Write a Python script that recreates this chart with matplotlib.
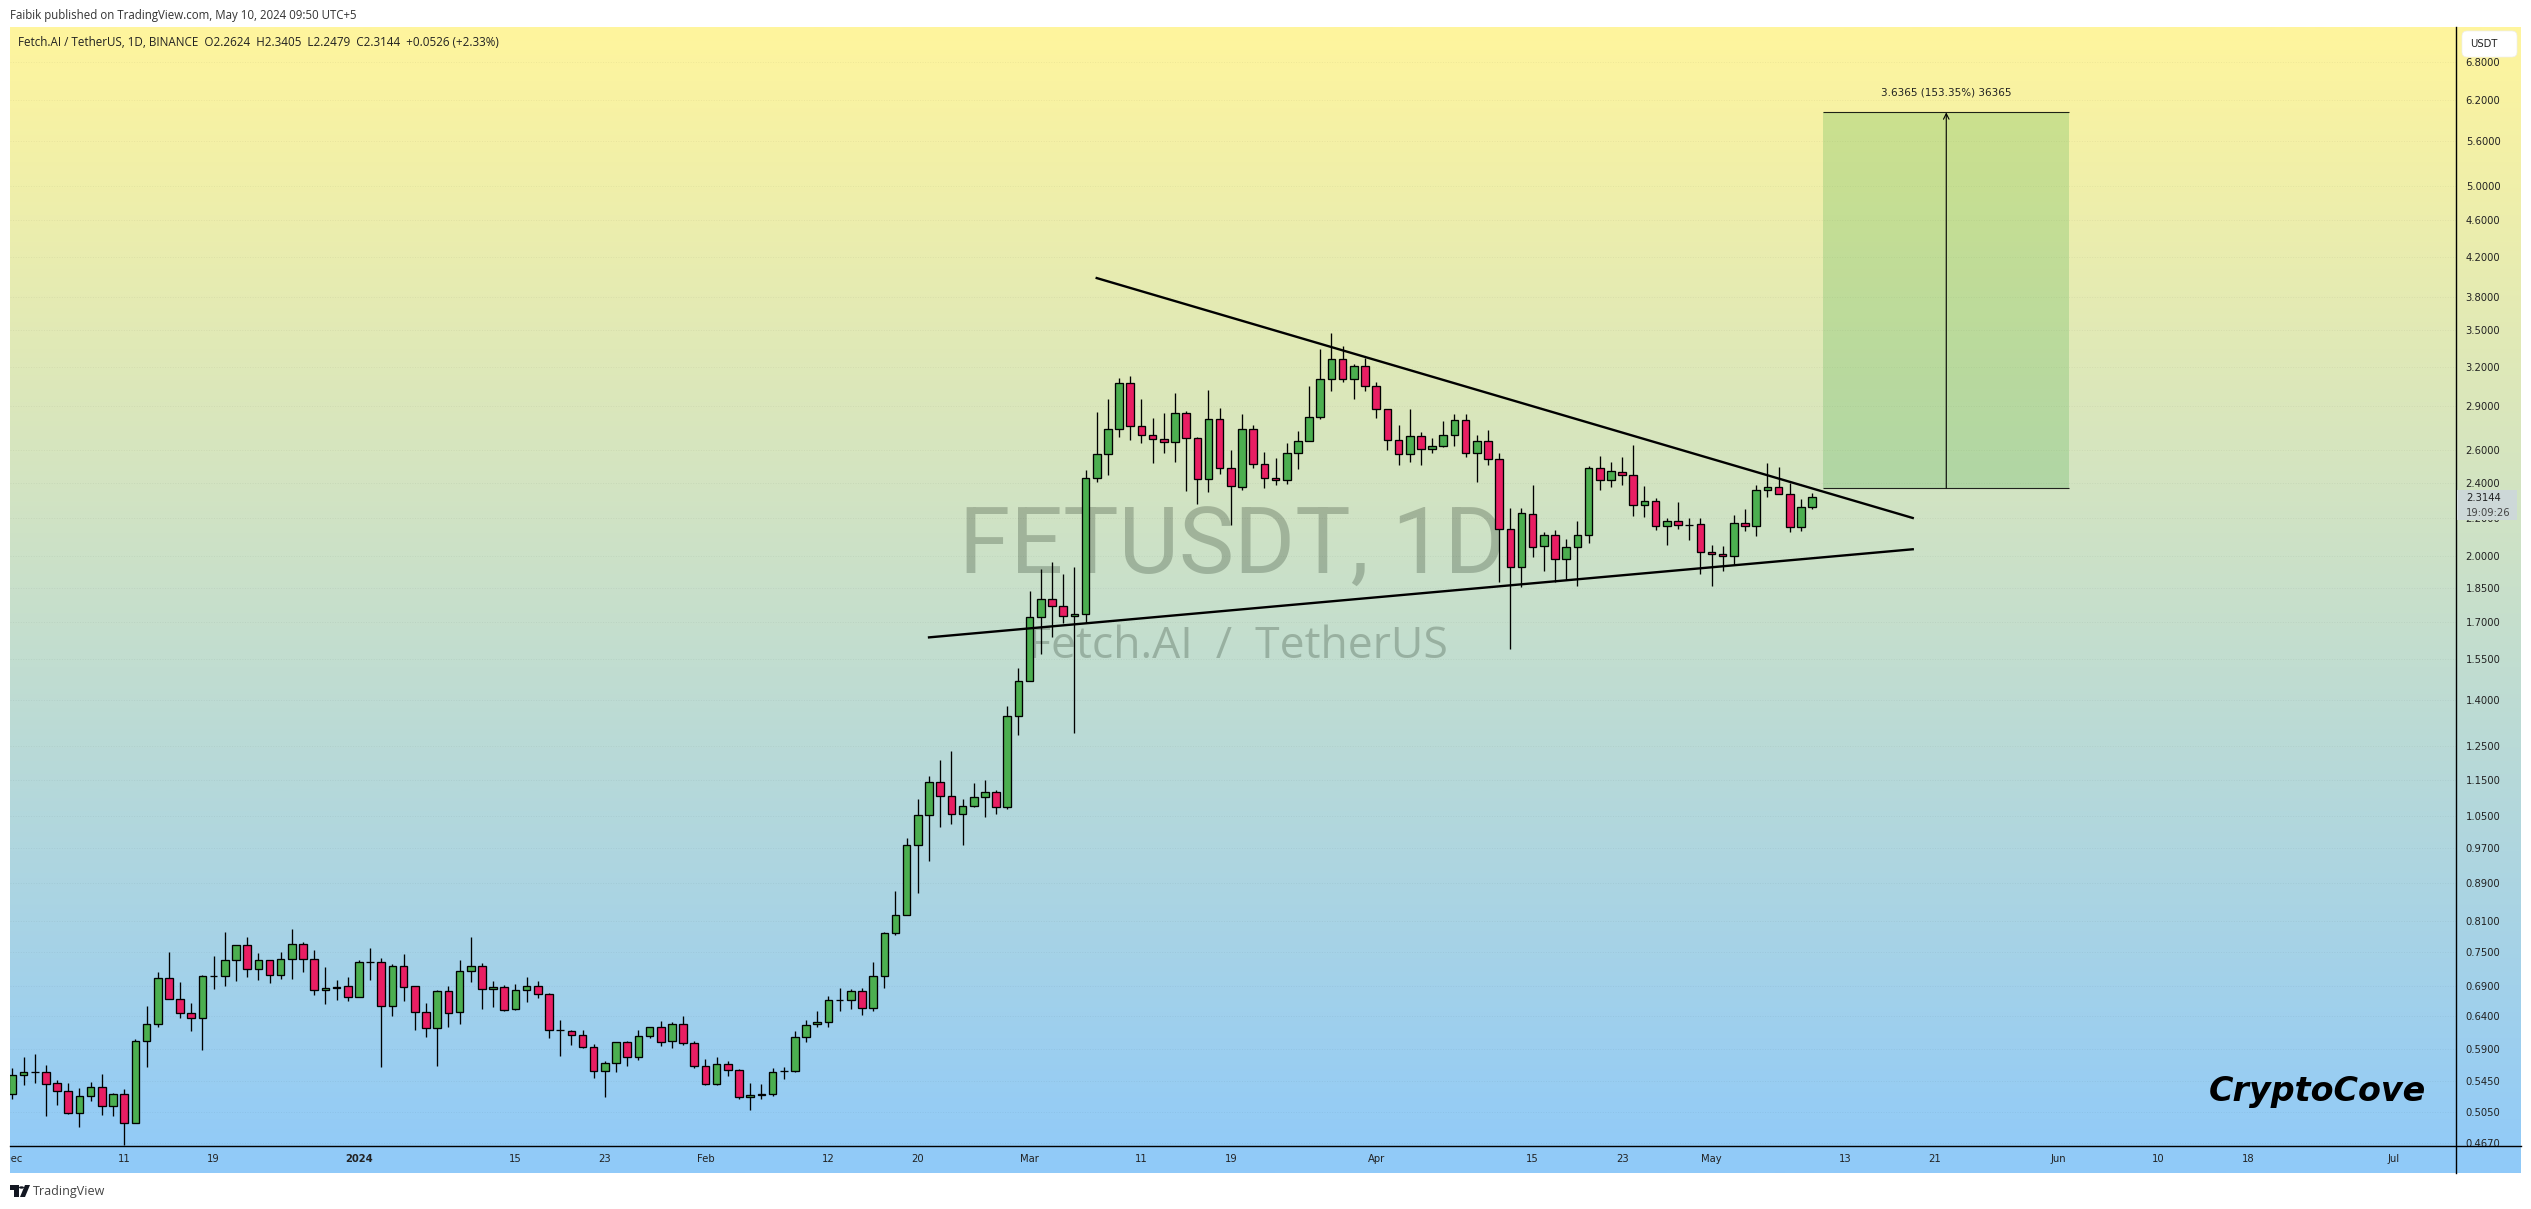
#!/usr/bin/env python3
"""FETUSDT daily candles with a triangle and a projected target, TradingView look."""

import matplotlib

matplotlib.use("Agg")
import matplotlib.dates as mdates
import matplotlib.pyplot as plt
import numpy as np
from matplotlib.colors import LinearSegmentedColormap
from matplotlib.lines import Line2D
from matplotlib.patches import Circle, FancyBboxPatch, Polygon, Rectangle
from matplotlib.transforms import Bbox, TransformedBbox

W, H = 2531, 1209

dates = np.arange(np.datetime64("2023-12-01"), np.datetime64("2024-05-11"))

opens = [
    .5277, .5530, .5572, .5572, .5422, .5316, .5034, .5250, .5369, .5122,
    .5277, .4911, .6017, .6275, .7033, .6676, .6449, .6369, .7068, .7068,
    .7354, .7632, .7192, .7354, .7086, .7372, .7651, .7372, .6827, .6878,
    .6895, .6710, .7317, .7317, .6561, .7245, .6895, .6465, .6214, .6810,
    .6465, .7156, .7245, .6844, .6878, .6513, .6827, .6895, .6760, .6183,
    .6168, .6107, .5928, .5585, .5698, .6002, .5783, .6092, .6229, .6017,
    .6275, .5987, .5656, .5409, .5684, .5599, .5237, .5264, .5277, .5585,
    .5585, .6077, .6275, .6307, .6660, .6660, .6810, .6529, .7068, .7862,
    .8220, .9776, 1.0531, 1.1429, 1.1039, 1.0557, 1.0769, 1.1012, 1.1149, 1.0742,
    1.3461, 1.4676, 1.7195, 1.7979, 1.7670, 1.7237, 1.7324, 2.4261, 2.5746, 2.7391,
    3.0695, 2.7594, 2.6986, 2.6720, 2.6523, 2.8498, 2.6787, 2.4200, 2.8077, 2.4870,
    2.3726, 2.7391, 2.5117, 2.4261, 2.4140, 2.5810, 2.6589, 2.8217, 3.1000, 3.2574,
    3.1000, 3.2014, 3.0468, 2.8783, 2.6654, 2.5746, 2.6921, 2.6067, 2.6264, 2.7040,
    2.8008, 2.5810, 2.6589, 2.5429, 2.1382, 1.9462, 2.2192, 2.0501, 2.1067, 1.9852,
    2.0450, 2.1067, 2.4870, 2.4140, 2.4623, 2.4441, 2.2692, 2.2918, 2.1540, 2.1810,
    2.1630, 2.1647, 2.0199, 2.0099, 2.0000, 2.1702, 2.1540, 2.3549, 2.3726, 2.3315,
    2.1490, 2.2624,
]
highs = [
    .5627, .5783, .5827, .5670, .5467, .5422, .5355, .5435, .5544, .5290,
    .5342, .6047, .6561, .7139, .7501, .6963, .6611, .7086, .7427, .7881,
    .7632, .7784, .7482, .7354, .7501, .7940, .7689, .7538, .7227, .6998,
    .7056, .7354, .7575, .7390, .7281, .7464, .6895, .6611, .6827, .6895,
    .7354, .7784, .7299, .6981, .6912, .6929, .7056, .6981, .6776, .6338,
    .6183, .6183, .5972, .5726, .6002, .6017, .6183, .6229, .6322, .6307,
    .6401, .6017, .5755, .5783, .5726, .5613, .5422, .5409, .5627, .5642,
    .6168, .6338, .6481, .6726, .6861, .6844, .6861, .7317, .7881, .8724,
    .9948, 1.0957, 1.1600, 1.2070, 1.2341, 1.0957, 1.1401, 1.1485, 1.1205, 1.3800,
    1.5155, 1.8369, 1.9367, 1.9705, 1.9128, 1.9462, 2.4746, 2.8567, 2.9503, 3.1078,
    3.1230, 2.9503, 2.8147, 2.8498, 2.9945, 2.8639, 2.6854, 3.0167, 2.8851, 2.6002,
    2.8427, 2.7663, 2.5874, 2.5492, 2.6457, 2.7255, 3.0468, 3.3391, 3.4741, 3.3639,
    3.2175, 3.2655, 3.0771, 2.8783, 2.7663, 2.8783, 2.7189, 2.6809, 2.7939, 2.8427,
    2.8427, 2.7040, 2.7323, 2.5810, 2.2523, 2.2523, 2.3844, 2.1224, 2.1329, 2.0859,
    2.1810, 2.4992, 2.5620, 2.5242, 2.5555, 2.6330, 2.3785, 2.3087, 2.1973, 2.2861,
    2.1973, 2.1973, 2.0550, 2.0501, 2.2136, 2.2466, 2.3844, 2.5180, 2.4931, 2.3962,
    2.3030, 2.3405,
]
lows = [
    .5220, .5400, .5422, .5005, .5139, .5022, .4859, .5194, .5014, .5005,
    .4658, .4911, .5651, .6229, .6676, .6369, .6178, .5889, .6855, .6900,
    .6992, .7056, .7004, .6958, .7027, .7027, .7133, .6738, .6605, .6671,
    .6654, .6710, .7004, .5651, .6412, .6649, .6193, .6087, .5665, .6239,
    .6286, .6963, .6524, .6556, .6491, .6502, .6638, .6688, .6072, .5807,
    .5962, .5913, .5498, .5246, .5581, .5665, .5736, .6057, .5943, .5909,
    .5957, .5627, .5396, .5396, .5526, .5212, .5080, .5212, .5250, .5476,
    .5572, .6002, .6229, .6229, .6491, .6524, .6428, .6476, .6872, .7823,
    .8220, .8695, .9412, 1.0239, 1.0315, .9785, 1.0742, 1.0496, 1.0574, 1.0689,
    1.2859, 1.4676, 1.5716, 1.6391, 1.6970, 1.2912, 1.6942, 2.4061, 2.4482, 2.6897,
    2.6677, 2.6501, 2.5221, 2.5853, 2.5283, 2.3531, 2.2785, 2.3472, 2.4544, 2.1595,
    2.3549, 2.4910, 2.3667, 2.3845, 2.3902, 2.4848, 2.6589, 2.8125, 3.0093, 3.0771,
    2.9503, 3.0093, 2.8193, 2.6002, 2.5095, 2.5283, 2.5095, 2.5853, 2.6242, 2.6308,
    2.5555, 2.4061, 2.5095, 1.8784, 1.5911, 1.8521, 1.9966, 1.9303, 1.8753, 1.8845,
    1.8567, 2.0688, 2.3589, 2.3765, 2.3883, 2.2118, 2.2063, 2.1364, 2.0586, 2.1417,
    2.0842, 1.9160, 1.8598, 1.9303, 1.9557, 2.1312, 2.1050, 2.3185, 2.3315, 2.1259,
    2.1312, 2.2479,
]
closes = [
    .5530, .5572, .5572, .5409, .5316, .5034, .5250, .5369, .5122, .5277,
    .4911, .6017, .6275, .7033, .6676, .6449, .6369, .7068, .7068, .7354,
    .7632, .7192, .7354, .7086, .7372, .7651, .7372, .6827, .6861, .6861,
    .6710, .7317, .7317, .6561, .7245, .6878, .6465, .6214, .6810, .6449,
    .7156, .7245, .6844, .6878, .6497, .6827, .6895, .6760, .6183, .6183,
    .6107, .5928, .5585, .5698, .6002, .5783, .6092, .6229, .6002, .6275,
    .5987, .5656, .5409, .5684, .5599, .5237, .5264, .5277, .5572, .5585,
    .6077, .6260, .6307, .6660, .6660, .6810, .6529, .7068, .7862, .8220,
    .9776, 1.0531, 1.1429, 1.1039, 1.0557, 1.0769, 1.1012, 1.1149, 1.0742, 1.3461,
    1.4676, 1.7195, 1.7979, 1.7670, 1.7237, 1.7324, 2.4261, 2.5746, 2.7391, 3.0695,
    2.7594, 2.6986, 2.6720, 2.6523, 2.8498, 2.6787, 2.4200, 2.8077, 2.4870, 2.3785,
    2.7391, 2.5117, 2.4261, 2.4140, 2.5810, 2.6589, 2.8217, 3.1000, 3.2574, 3.1000,
    3.2014, 3.0468, 2.8783, 2.6654, 2.5746, 2.6921, 2.6067, 2.6264, 2.7040, 2.8008,
    2.5810, 2.6589, 2.5429, 2.1382, 1.9462, 2.2246, 2.0450, 2.1067, 1.9852, 2.0450,
    2.1067, 2.4870, 2.4140, 2.4684, 2.4441, 2.2692, 2.2918, 2.1540, 2.1810, 2.1595,
    2.1630, 2.0199, 2.0099, 2.0000, 2.1702, 2.1540, 2.3549, 2.3726, 2.3315, 2.1490,
    2.2579, 2.3144,
]

price_ticks = [
    6.8, 6.2, 5.6, 5.0, 4.6, 4.2, 3.8, 3.5, 3.2, 2.9, 2.6, 2.4, 2.2, 2.0, 1.85, 1.7,
    1.55, 1.4, 1.25, 1.15, 1.05, .97, .89, .81, .75, .69, .64, .59, .545, .505, .467,
]
time_ticks = [
    ("2023-12-01", "Dec"), ("2023-12-11", "11"), ("2023-12-19", "19"), ("2024-01-01", "2024"),
    ("2024-01-15", "15"), ("2024-01-23", "23"), ("2024-02-01", "Feb"), ("2024-02-12", "12"),
    ("2024-02-20", "20"), ("2024-03-01", "Mar"), ("2024-03-11", "11"), ("2024-03-19", "19"),
    ("2024-04-01", "Apr"), ("2024-04-15", "15"), ("2024-04-23", "23"), ("2024-05-01", "May"),
    ("2024-05-13", "13"), ("2024-05-21", "21"), ("2024-06-01", "Jun"), ("2024-06-10", "10"),
    ("2024-06-18", "18"), ("2024-07-01", "Jul"),
]

upper_dates = ["2024-03-07", "2024-05-19"]
upper_prices = [3.984, 2.199]
lower_dates = ["2024-02-21", "2024-05-19"]
lower_prices = [1.636, 2.035]

target_dates = ["2024-05-11", "2024-05-22", "2024-06-02"]
target_bottom = 2.3686
target_top = 6.0051
target_label = "3.6365 (153.35%) 36365"

header = "Fetch.AI / TetherUS, 1D, BINANCE  O2.2624  H2.3405  L2.2479  C2.3144  +0.0526 (+2.33%)"
published = "Faibik published on TradingView.com, May 10, 2024 09:50 UTC+5"

UP = "#4CAF50"
DOWN = "#E91E63"


def fx(x):
    return x / W


def fy(y):
    return 1 - y / H


def px_box(x0, y0, x1, y1):
    return [fx(x0), fy(y1), (x1 - x0) / W, (y1 - y0) / H]


fig = plt.figure(figsize=(W / 100, H / 100), dpi=100, facecolor="white")

# gradient panel behind everything
bg = fig.add_axes(px_box(10, 27, 2521, 1173), zorder=-1)
cmap = LinearSegmentedColormap.from_list("panel", ["#FFF59D", "#90CAF9"])
bg.imshow(np.linspace(0, 1, 512).reshape(-1, 1), cmap=cmap, aspect="auto")
bg.axis("off")

bg.text(fx(1232), fy(574), "FETUSDT, 1D", transform=fig.transFigure, ha="center", va="baseline",
        family="Roboto", fontsize=67, color="#1a2a1a", alpha=0.25)
bg.text(fx(1238), fy(658), "Fetch.AI  /  TetherUS", transform=fig.transFigure, ha="center", va="baseline",
        family="Open Sans", fontsize=32, color="#1a2a1a", alpha=0.25)

ax = fig.add_axes(px_box(10, 27, 2456, 1146), zorder=1)
ax.patch.set_alpha(0)
ax.set_yscale("log")
ax.grid(axis="y", color="black", alpha=0.05, linestyle=":", linewidth=0.7)
ax.set_axisbelow(True)

opens = np.array(opens)
closes = np.array(closes)
colors = np.where(closes >= opens, UP, DOWN)
ax.vlines(dates, lows, highs, color="black", linewidth=0.95, zorder=2)
ax.bar(dates, np.abs(closes - opens), width=0.68, bottom=np.minimum(opens, closes),
       color=colors, edgecolor="black", linewidth=0.95, zorder=3)

ax.plot(np.array(upper_dates, dtype="datetime64[D]"), upper_prices, color="black", linewidth=1.7, zorder=4)
ax.plot(np.array(lower_dates, dtype="datetime64[D]"), lower_prices, color="black", linewidth=1.7, zorder=4)

t_left, t_mid, t_right = np.array(target_dates, dtype="datetime64[D]")
ax.fill_between([t_left, t_right], target_bottom, target_top, color=UP, alpha=0.25, linewidth=0, zorder=1)
ax.hlines([target_bottom, target_top], t_left, t_right, color="black", linewidth=0.8, alpha=0.85, zorder=2)
ax.annotate("", xy=(t_mid, target_top), xytext=(t_mid, target_bottom),
            arrowprops=dict(arrowstyle="->", color="black", linewidth=0.8, shrinkA=0, shrinkB=0), zorder=2)
ax.annotate(target_label, xy=(t_mid, target_top), xytext=(0, 15), textcoords="offset pixels",
            ha="center", va="bottom", fontsize=7.5, color="#222222", family="DejaVu Sans")

start = mdates.date2num(dates[0])
ax.set_xlim(start - 0.215, start + 218.6)
ax.set_ylim(0.4641, 7.42)

ax.yaxis.tick_right()
ax.set_yticks(price_ticks, [f"{p:.4f}" for p in price_ticks])
ax.yaxis.set_minor_locator(plt.NullLocator())
ax.tick_params(axis="y", length=0, pad=7, labelsize=7.2, labelcolor="#222222")
ax.set_xticks(np.array([d for d, _ in time_ticks], dtype="datetime64[D]"), [t for _, t in time_ticks])
ax.tick_params(axis="x", length=0, pad=6, labelsize=7.2, labelcolor="#222222")
for spine in ax.spines.values():
    spine.set_visible(False)

panel_clip = TransformedBbox(Bbox.from_extents(fx(10), fy(1173), fx(2521), fy(27)), fig.transFigure)
price_clip = TransformedBbox(Bbox.from_extents(fx(2456), fy(1146), fx(2521), fy(27)), fig.transFigure)
for label in ax.get_xticklabels():
    label.set_clip_box(panel_clip)
    label.set_clip_on(True)
    if label.get_text() == "2024":
        label.set_fontweight("bold")
for label in ax.get_yticklabels():
    label.set_clip_box(price_clip)
    label.set_clip_on(True)

# axis frame lines run out to the panel edges
fig.add_artist(Line2D([fx(10), fx(2521)], [fy(1146), fy(1146)], color="black", linewidth=1.0))
fig.add_artist(Line2D([fx(2456), fx(2456)], [fy(27), fy(1173)], color="black", linewidth=1.0))

fig.add_artist(FancyBboxPatch((fx(2462), fy(57)), 55 / W, 26 / H, boxstyle="round,pad=0,rounding_size=0.002",
                              facecolor="white", edgecolor="#eeeeee", linewidth=0.5, mutation_aspect=2.1,
                              transform=fig.transFigure, zorder=5))
fig.text(fx(2470), fy(44), "USDT", ha="left", va="center", fontsize=7.2, color="#222222", zorder=6)

fig.add_artist(Rectangle((fx(2457), fy(520)), 60 / W, 30 / H, facecolor="#CDD8D8",
                         edgecolor="none", transform=fig.transFigure, zorder=5))
fig.text(fx(2466), fy(498), f"{closes[-1]:.4f}", ha="left", va="center", fontsize=7.2, color="#222222", zorder=6)
fig.text(fx(2466), fy(513), "19:09:26", ha="left", va="center", fontsize=7.2, color="#444444", zorder=6)

fig.text(fx(10), fy(15), published, ha="left", va="center", family="Open Sans", fontsize=8.3, color="#333333")
fig.text(fx(18), fy(42), header, ha="left", va="center", family="Open Sans", fontsize=8.4, color="#222222")

fig.text(fx(2317), fy(1091), "CryptoCove", ha="center", va="center", family="DejaVu Sans",
         fontweight="bold", style="italic", fontsize=24, color="black", zorder=6)

# TradingView mark and wordmark
fig.add_artist(Polygon([(fx(x), fy(y)) for x, y in
                        [(10, 1185), (19, 1185), (19, 1197), (14, 1197), (14, 1190), (10, 1190)]],
                       closed=True, facecolor="#131722", edgecolor="none", transform=fig.transFigure))
fig.add_artist(Polygon([(fx(x), fy(y)) for x, y in
                        [(25, 1185), (30, 1185), (25, 1197), (20, 1197)]],
                       closed=True, facecolor="#131722", edgecolor="none", transform=fig.transFigure))
fig.add_artist(Circle((fx(21.5), fy(1187.5)), 2.5 / W, facecolor="#131722", edgecolor="none",
                      transform=fig.transFigure))
fig.text(fx(33), fy(1191), "TradingView", ha="left", va="center", family="Open Sans", fontsize=9, color="#444444")

fig.savefig("out.png", dpi=100)
